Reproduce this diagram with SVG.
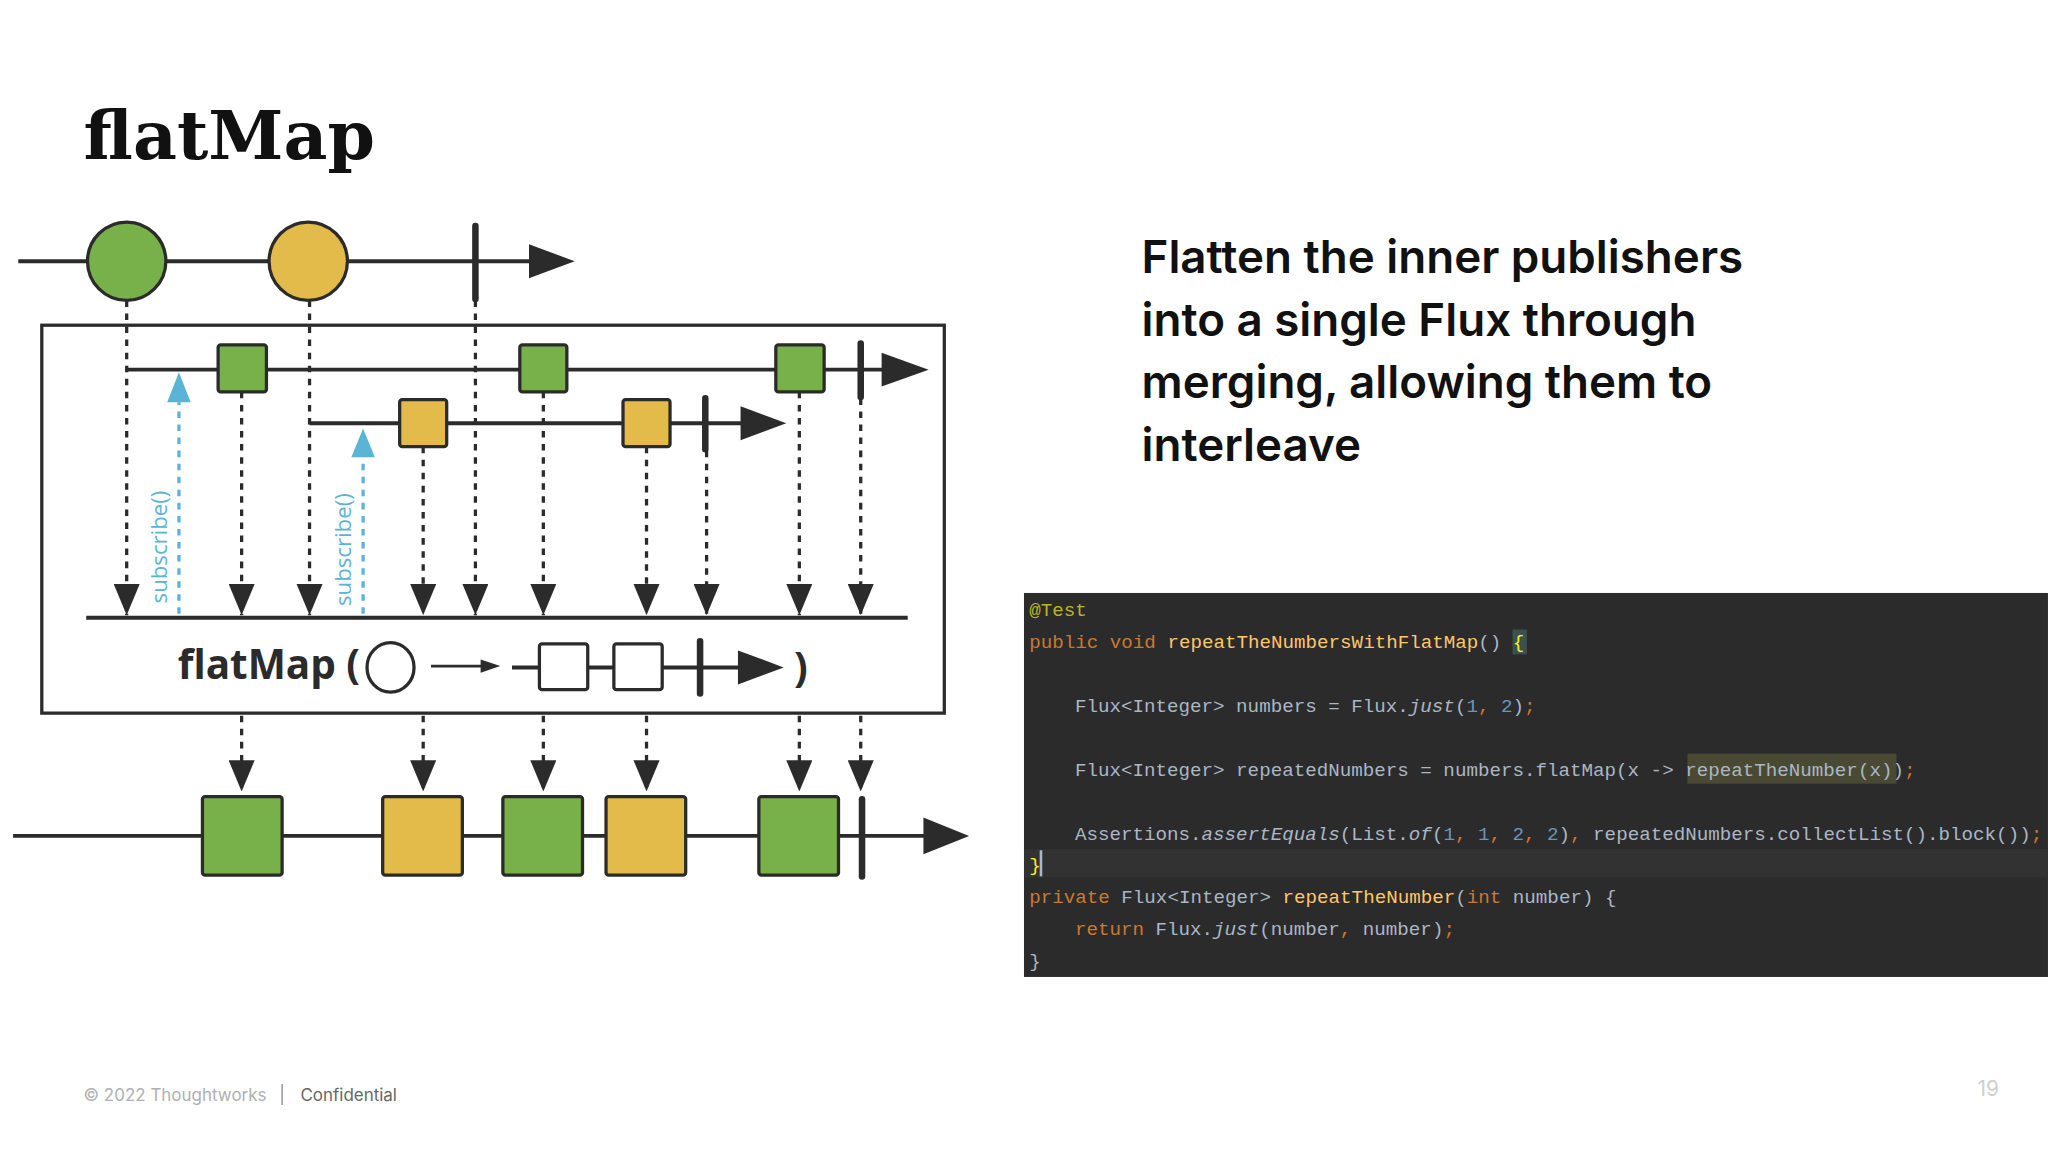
<svg xmlns="http://www.w3.org/2000/svg" width="2048" height="1152" viewBox="0 0 2048 1152">
<defs>
<style>
.ln{stroke:#2b2b2b;stroke-width:3;fill:none}
.ds{stroke:#2b2b2b;stroke-width:2.5;stroke-dasharray:5 5;fill:none}
.bl{stroke:#5ab4d6;stroke-width:2.5;stroke-dasharray:5 5;fill:none}
.bar{stroke:#2b2b2b;stroke-width:5;stroke-linecap:round}
.g{fill:#78b04a;stroke:#2b2b2b;stroke-width:2.5}
.y{fill:#e2bb4a;stroke:#2b2b2b;stroke-width:2.5}
.hd{fill:#2b2b2b}
.code{font-family:"Liberation Mono",monospace;font-size:14.7px;fill:#a9b7c6;white-space:pre}
.k{fill:#cc7832}.f{fill:#ffc66d}.n{fill:#6897bb}.i{font-style:italic}
.rt{font-family:Inter,"Liberation Sans",sans-serif;font-weight:600;font-size:35px;fill:#111}
</style>
<marker id="dn" viewBox="0 0 24 20" refX="24" refY="10" markerWidth="24" markerHeight="20" markerUnits="userSpaceOnUse" orient="auto"><path d="M0,0 L24,10 L0,20Z" fill="#2b2b2b"/></marker>
</defs>
<rect width="2048" height="1152" fill="#fff"/>
<g transform="scale(1.3061)">
<text x="64" y="122" font-family="'DejaVu Serif','Liberation Serif',serif" font-weight="bold" font-size="52" fill="#111">flatMap</text>
<g id="connectors">
<line class="ln" x1="14" y1="200" x2="410" y2="200"/><path class="hd" d="M405,187 L440,200 L405,213Z"/>
<line class="ln" x1="97" y1="283" x2="680" y2="283"/><path class="hd" d="M675,270 L711,283 L675,296Z"/>
<line class="ln" x1="237" y1="324" x2="572" y2="324"/><path class="hd" d="M567,311 L602,324 L567,337Z"/>
<line class="ln" x1="66" y1="473" x2="695" y2="473"/>
<line class="ln" x1="10" y1="640" x2="712" y2="640"/><path class="hd" d="M707,626 L742,640 L707,654Z"/>
<g class="ds">
<path d="M97,230V471" marker-end="url(#dn)"/><path d="M185,300V471" marker-end="url(#dn)"/><path d="M237,230V471" marker-end="url(#dn)"/>
<path d="M324,342V471" marker-end="url(#dn)"/><path d="M364,230V471" marker-end="url(#dn)"/><path d="M416,300V471" marker-end="url(#dn)"/>
<path d="M495,342V471" marker-end="url(#dn)"/><path d="M541,345V471" marker-end="url(#dn)"/><path d="M612,300V471" marker-end="url(#dn)"/>
<path d="M659,305V471" marker-end="url(#dn)"/>
<path d="M185,548V606" marker-end="url(#dn)"/><path d="M324,548V606" marker-end="url(#dn)"/><path d="M416,548V606" marker-end="url(#dn)"/>
<path d="M495,548V606" marker-end="url(#dn)"/><path d="M612,548V606" marker-end="url(#dn)"/><path d="M659,548V606" marker-end="url(#dn)"/>
</g>
<path class="bl" d="M137,470V308"/><path d="M128,308 L137,285 L146,308Z" fill="#5ab4d6"/>
<path class="bl" d="M278,470V350"/><path d="M269,350 L278,328 L287,350Z" fill="#5ab4d6"/>
</g>
<g id="box"><rect x="32" y="249" width="691" height="297" fill="none" stroke="#2b2b2b" stroke-width="2.5"/></g>
<g id="source">
<circle class="g" cx="97" cy="200" r="30"/><circle class="y" cx="236" cy="200" r="30"/>
<line class="bar" x1="364" y1="173" x2="364" y2="229"/>
</g>
<g id="inner">
<rect class="g" x="167" y="264" width="37" height="36" rx="2"/><rect class="g" x="398" y="264" width="36" height="36" rx="2"/><rect class="g" x="594" y="264" width="37" height="36" rx="2"/>
<line class="bar" x1="659" y1="263" x2="659" y2="304"/>
<rect class="y" x="306" y="306" width="36" height="36" rx="2"/><rect class="y" x="477" y="306" width="36" height="36" rx="2"/>
<line class="bar" x1="540" y1="305" x2="540" y2="344"/>
<text transform="translate(128,462) rotate(-90)" font-family="'Open Sans','Liberation Sans',sans-serif" font-size="17" fill="#5ab4d6">subscribe()</text>
<text transform="translate(269,464) rotate(-90)" font-family="'Open Sans','Liberation Sans',sans-serif" font-size="17" fill="#5ab4d6">subscribe()</text>
</g>
<g id="label">
<text x="136" y="520" font-family="'Open Sans','Liberation Sans',sans-serif" font-weight="bold" font-size="31" fill="#2b2b2b">flatMap (</text>
<ellipse cx="299" cy="511" rx="18" ry="19" fill="#fff" stroke="#2b2b2b" stroke-width="2.5"/>
<line x1="330" y1="510" x2="370" y2="510" stroke="#2b2b2b" stroke-width="2"/><path class="hd" d="M368,505 L383,510 L368,515Z"/>
<line class="ln" x1="392" y1="511" x2="570" y2="511"/><path class="hd" d="M565,498 L600,511 L565,524Z"/>
<rect x="413" y="493" width="37" height="35" fill="#fff" stroke="#2b2b2b" stroke-width="2.5" rx="2"/>
<rect x="470" y="493" width="37" height="35" fill="#fff" stroke="#2b2b2b" stroke-width="2.5" rx="2"/>
<line class="bar" x1="536" y1="491" x2="536" y2="531"/>
<text x="608" y="522" font-family="'Open Sans','Liberation Sans',sans-serif" font-weight="bold" font-size="31" fill="#2b2b2b">)</text>
</g>
<g id="result">
<rect class="g" x="155" y="610" width="61" height="60" rx="2"/><rect class="y" x="293" y="610" width="61" height="60" rx="2"/>
<rect class="g" x="385" y="610" width="61" height="60" rx="2"/><rect class="y" x="464" y="610" width="61" height="60" rx="2"/>
<rect class="g" x="581" y="610" width="61" height="60" rx="2"/>
<line class="bar" x1="660" y1="612" x2="660" y2="671"/>
</g>
<g id="desc">
<text class="rt" x="874" y="209">Flatten the inner publishers</text>
<text class="rt" x="874" y="257">into a single Flux through</text>
<text class="rt" x="874" y="305">merging, allowing them to</text>
<text class="rt" x="874" y="353">interleave</text>
</g>
<g id="code">
<rect x="784" y="454" width="784" height="294" fill="#2b2b2b"/>
<rect x="784" y="650" width="784" height="22" fill="#323232"/>
<rect x="1158" y="482" width="11" height="19" fill="#3b514d"/>
<rect x="1292" y="577" width="160" height="23" fill="#4a4a34"/>
<rect x="796" y="651" width="2" height="20" fill="#a9b7c6"/>
<text class="code" x="788" y="472" style="fill:#bbb529">@Test</text>
<text class="code" x="788" y="496"><tspan class="k">public void </tspan><tspan class="f">repeatTheNumbersWithFlatMap</tspan>() <tspan style="fill:#ffef28">{</tspan></text>
<text class="code" x="823" y="545">Flux&lt;Integer&gt; numbers = Flux.<tspan class="i">just</tspan>(<tspan class="n">1</tspan><tspan class="k">, </tspan><tspan class="n">2</tspan>)<tspan class="k">;</tspan></text>
<text class="code" x="823" y="594">Flux&lt;Integer&gt; repeatedNumbers = numbers.flatMap(x -&gt; repeatTheNumber(x))<tspan class="k">;</tspan></text>
<text class="code" x="823" y="643">Assertions.<tspan class="i">assertEquals</tspan>(List.<tspan class="i">of</tspan>(<tspan class="n">1</tspan><tspan class="k">, </tspan><tspan class="n">1</tspan><tspan class="k">, </tspan><tspan class="n">2</tspan><tspan class="k">, </tspan><tspan class="n">2</tspan>)<tspan class="k">, </tspan>repeatedNumbers.collectList().block())<tspan class="k">;</tspan></text>
<text class="code" x="788" y="667" style="fill:#ffef28">}</text>
<text class="code" x="788" y="691"><tspan class="k">private </tspan>Flux&lt;Integer&gt; <tspan class="f">repeatTheNumber</tspan>(<tspan class="k">int </tspan>number) {</text>
<text class="code" x="823" y="716"><tspan class="k">return </tspan>Flux.<tspan class="i">just</tspan>(number<tspan class="k">, </tspan>number)<tspan class="k">;</tspan></text>
<text class="code" x="788" y="740">}</text>
</g>
<g id="footer" font-family="Inter,'Liberation Sans',sans-serif">
<text x="64" y="843" font-size="13" fill="#b0b0b0">© 2022 Thoughtworks</text>
<line x1="216" y1="830" x2="216" y2="846" stroke="#888" stroke-width="1"/>
<text x="230" y="843" font-size="13" fill="#666">Confidential</text>
<text x="1514" y="839" font-size="16" fill="#d0d0d0">19</text>
</g>
</g>
</svg>
